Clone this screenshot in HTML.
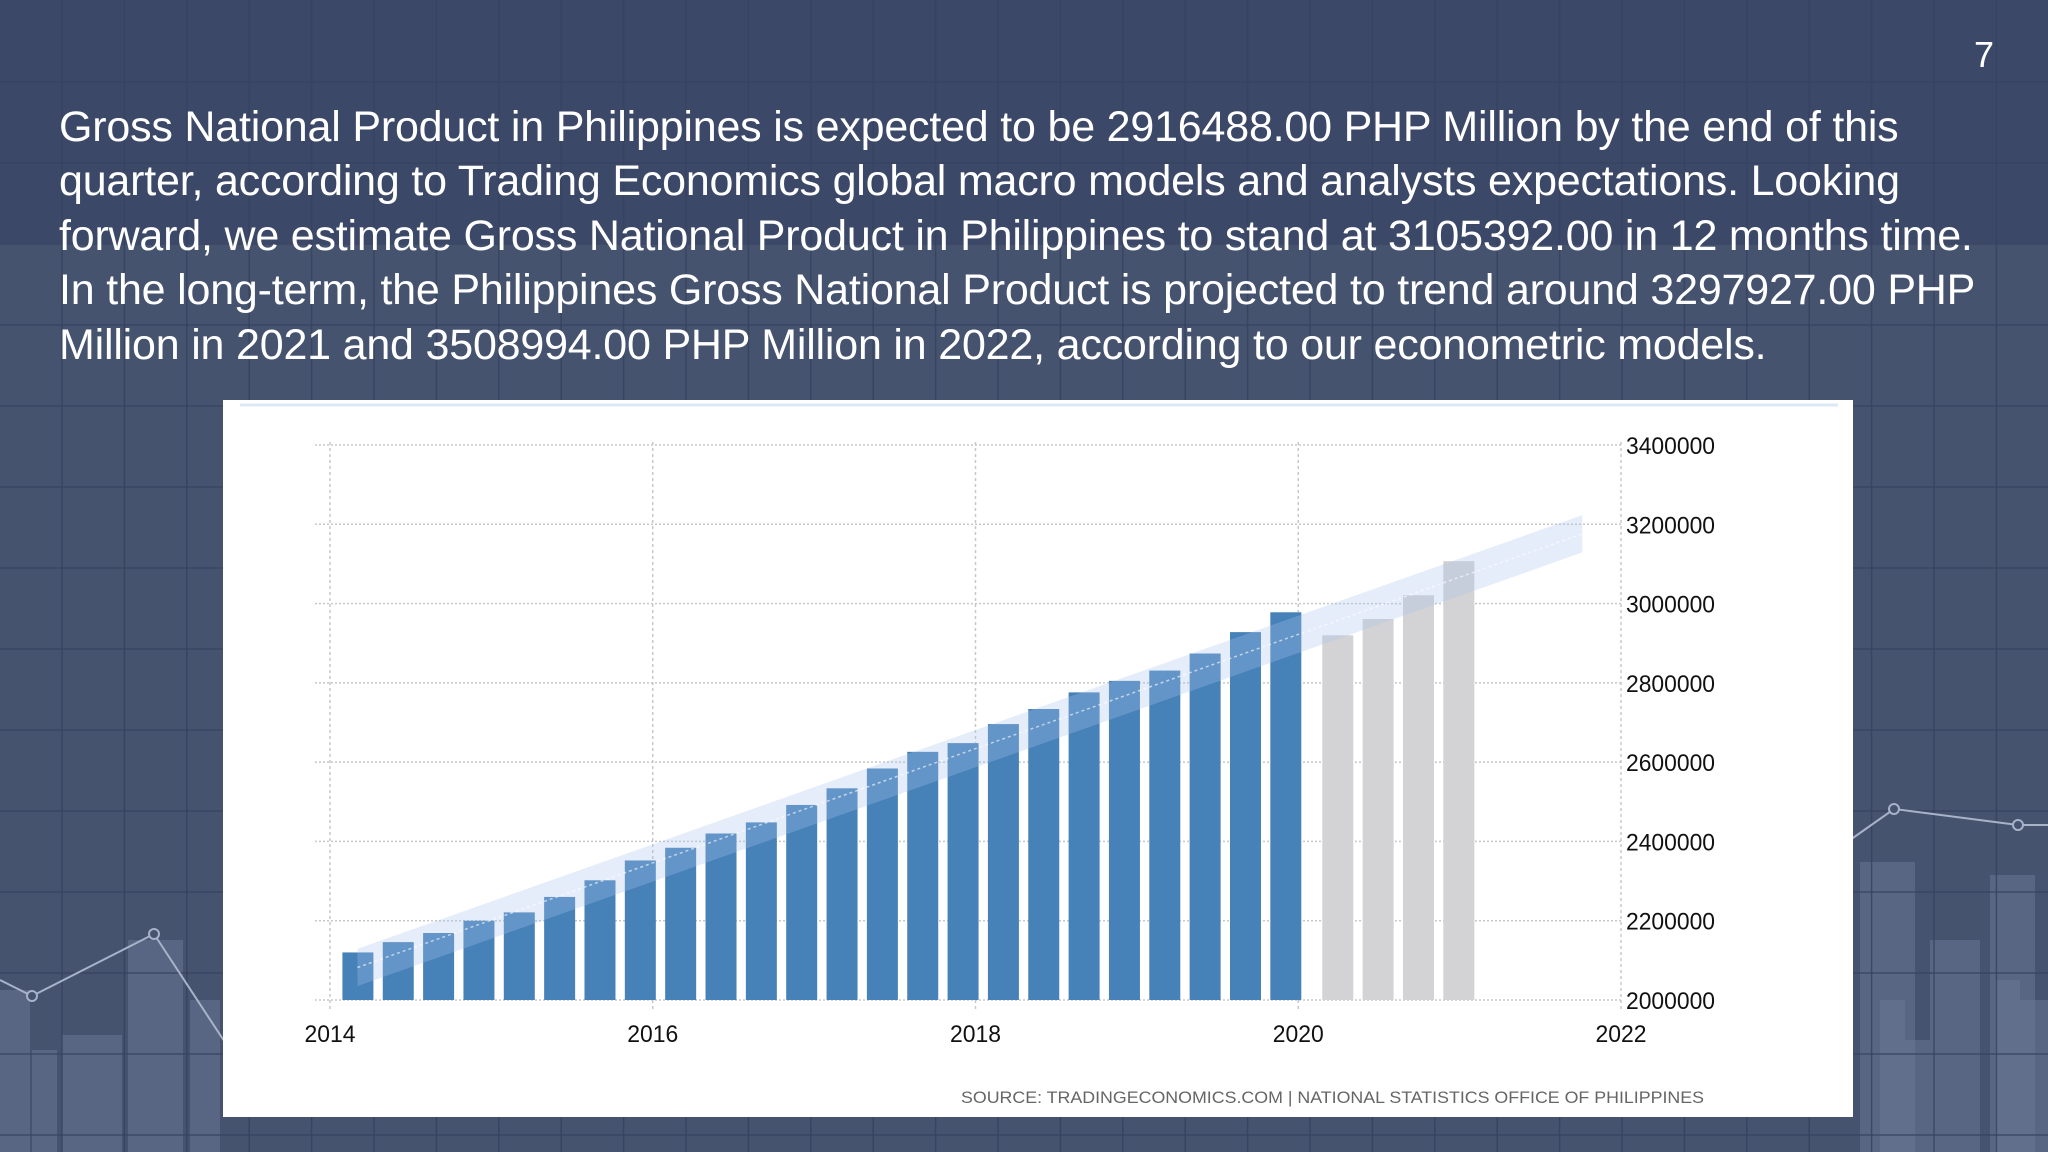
<!DOCTYPE html>
<html><head><meta charset="utf-8"><style>
html,body{margin:0;padding:0;}
body{width:2048px;height:1152px;overflow:hidden;position:relative;background:#3c4868;font-family:"Liberation Sans",sans-serif;}
#bg{position:absolute;left:0;top:0;}
.line{position:absolute;left:59px;color:#fff;font-size:43px;white-space:nowrap;line-height:54px;letter-spacing:-0.2px;}
#pagenum{position:absolute;left:1974px;top:34px;color:#fff;font-size:36px;}
</style></head><body>
<svg id="bg" width="2048" height="1152"></svg>
<div id="pagenum">7</div>
<div>
<div class="line" style="top:100px">Gross National Product in Philippines is expected to be 2916488.00 PHP Million by the end of this</div>
<div class="line" style="top:154px">quarter, according to Trading Economics global macro models and analysts expectations. Looking</div>
<div class="line" style="top:209px">forward, we estimate Gross National Product in Philippines to stand at 3105392.00 in 12 months time.</div>
<div class="line" style="top:263px">In the long-term, the Philippines Gross National Product is projected to trend around 3297927.00 PHP</div>
<div class="line" style="top:318px">Million in 2021 and 3508994.00 PHP Million in 2022, according to our econometric models.</div>
</div>
<svg id="chart" style="position:absolute;left:0;top:0" width="2048" height="1152"></svg>
<script>
const actualValues=[2120000,2146000,2169000,2200000,2221000,2260000,2302000,2352000,2384000,2420000,2448000,2492000,2534000,2584000,2626000,2648000,2696000,2734000,2776000,2805000,2831000,2874000,2928000,2978000];
const forecastValues=[2920000,2961000,3021000,3107000];
const forecastStart=2020.245;
const actualStart=2014.173;
const xTickLabels=[2014,2016,2018,2020,2022];
const yTickValues=[2000000,2200000,2400000,2600000,2800000,3000000,3200000,3400000];
const trendDates=[2014.17,2021.76];
const trendCenter=[2082000,3176000];
const trendHalfWidth=47000;

const NS="http://www.w3.org/2000/svg";
function mk(parent,tag,attrs){const e=document.createElementNS(NS,tag);for(const k in attrs)e.setAttribute(k,attrs[k]);parent.appendChild(e);return e;}
const X0=330,X1=1621,Y0=1000,Y1=445;
const xs=d=>X0+(d-2014)/8*(X1-X0);
const ys=v=>Y0-(v-2000000)/1400000*(Y0-Y1);

const bg=document.getElementById('bg');
let r=mk(bg,'rect',{x:0,y:243,width:2048,height:909,fill:'#45536f'});

const decoBars=[[0,990,30],[32,1050,25],[62,1035,60],[128,940,55],[190,1000,30],[1860,862,55],[1930,940,50],[1990,875,45],[1880,1000,25],[1905,1040,25],[1995,980,25],[2020,1000,28]];
decoBars.forEach(b=>{const e=mk(bg,'rect',{x:b[0],y:b[1],width:b[2],height:1152-b[1],fill:'#6a7793',opacity:0.55});});
for(let x=62;x<2048;x+=62.4){const e=mk(bg,'line',{x1:x,y1:0,x2:x,y2:1152,stroke:'#36425f','stroke-width':1.5,opacity:0.8});}
for(let y=82;y<1152;y+=81){const e=mk(bg,'line',{x1:0,y1:y,x2:2048,y2:y,stroke:'#36425f','stroke-width':1.5,opacity:0.8});}
let pl=mk(bg,'polyline',{points:'0,980 32,996 154,934 230,1050',fill:'none',stroke:'#a8b2c8','stroke-width':2});

pl=mk(bg,'polyline',{points:'1850,840 1894,809 2018,825 2048,825',fill:'none',stroke:'#a8b2c8','stroke-width':2});

[[32,996],[154,934],[1894,809],[2018,825]].forEach(p=>{const c=mk(bg,'circle',{cx:p[0],cy:p[1],r:5,fill:'#45536f',stroke:'#a8b2c8','stroke-width':2});});

const svg=document.getElementById('chart');
let box=mk(svg,'rect',{x:223,y:400,width:1630,height:717,fill:'#fff'});

let tb=mk(svg,'line',{x1:240,y1:405,x2:1838,y2:405,stroke:'#dce8f8','stroke-width':3});

yTickValues.forEach(v=>{
  const g=mk(svg,'line',{x1:315,y1:ys(v),x2:X1,y2:ys(v),stroke:'#c8c8c8','stroke-width':1.5,'stroke-dasharray':'2,2'});
  
  const t=mk(svg,'text',{x:1626,y:ys(v)+9,'font-size':24,fill:'#111',textLength:89,lengthAdjust:'spacingAndGlyphs'});
  t.textContent=v;
});
xTickLabels.forEach(yr=>{
  const g=mk(svg,'line',{x1:xs(yr),y1:Y1-3,x2:xs(yr),y2:Y0+12,stroke:'#c8c8c8','stroke-width':1.5,'stroke-dasharray':'3,3'});
  
  const t=mk(svg,'text',{x:xs(yr),y:Y0+42,'font-size':24,fill:'#111','text-anchor':'middle',textLength:51,lengthAdjust:'spacingAndGlyphs'});
  t.textContent=yr;
});
const BW=31;
actualValues.forEach((v,i)=>{
  const cx=xs(actualStart+0.25*i);
  const b=mk(svg,'rect',{x:cx-BW/2,y:ys(v),width:BW,height:Y0-ys(v),fill:'#4682b8'});
  
});
forecastValues.forEach((v,i)=>{
  const cx=xs(forecastStart+0.25*i);
  const b=mk(svg,'rect',{x:cx-BW/2,y:ys(v),width:BW,height:Y0-ys(v),fill:'#d3d3d5'});
  
});
const tx0=xs(trendDates[0]),tx1=xs(trendDates[1]);
let band=mk(svg,'polygon',{points:`${tx0},${ys(trendCenter[0]+trendHalfWidth)} ${tx1},${ys(trendCenter[1]+trendHalfWidth)} ${tx1},${ys(trendCenter[1]-trendHalfWidth)} ${tx0},${ys(trendCenter[0]-trendHalfWidth)}`,fill:'#a8c4f0',opacity:0.3});

let tl=mk(svg,'line',{x1:tx0,y1:ys(trendCenter[0]),x2:tx1,y2:ys(trendCenter[1]),stroke:'#ffffff','stroke-width':1.5,'stroke-dasharray':'3,3',opacity:0.6});

let src=mk(svg,'text',{x:961,y:1103,'font-size':17,fill:'#666',textLength:743,lengthAdjust:'spacingAndGlyphs'});
src.textContent='SOURCE:  TRADINGECONOMICS.COM  |  NATIONAL  STATISTICS  OFFICE  OF  PHILIPPINES';

</script>
</body></html>
